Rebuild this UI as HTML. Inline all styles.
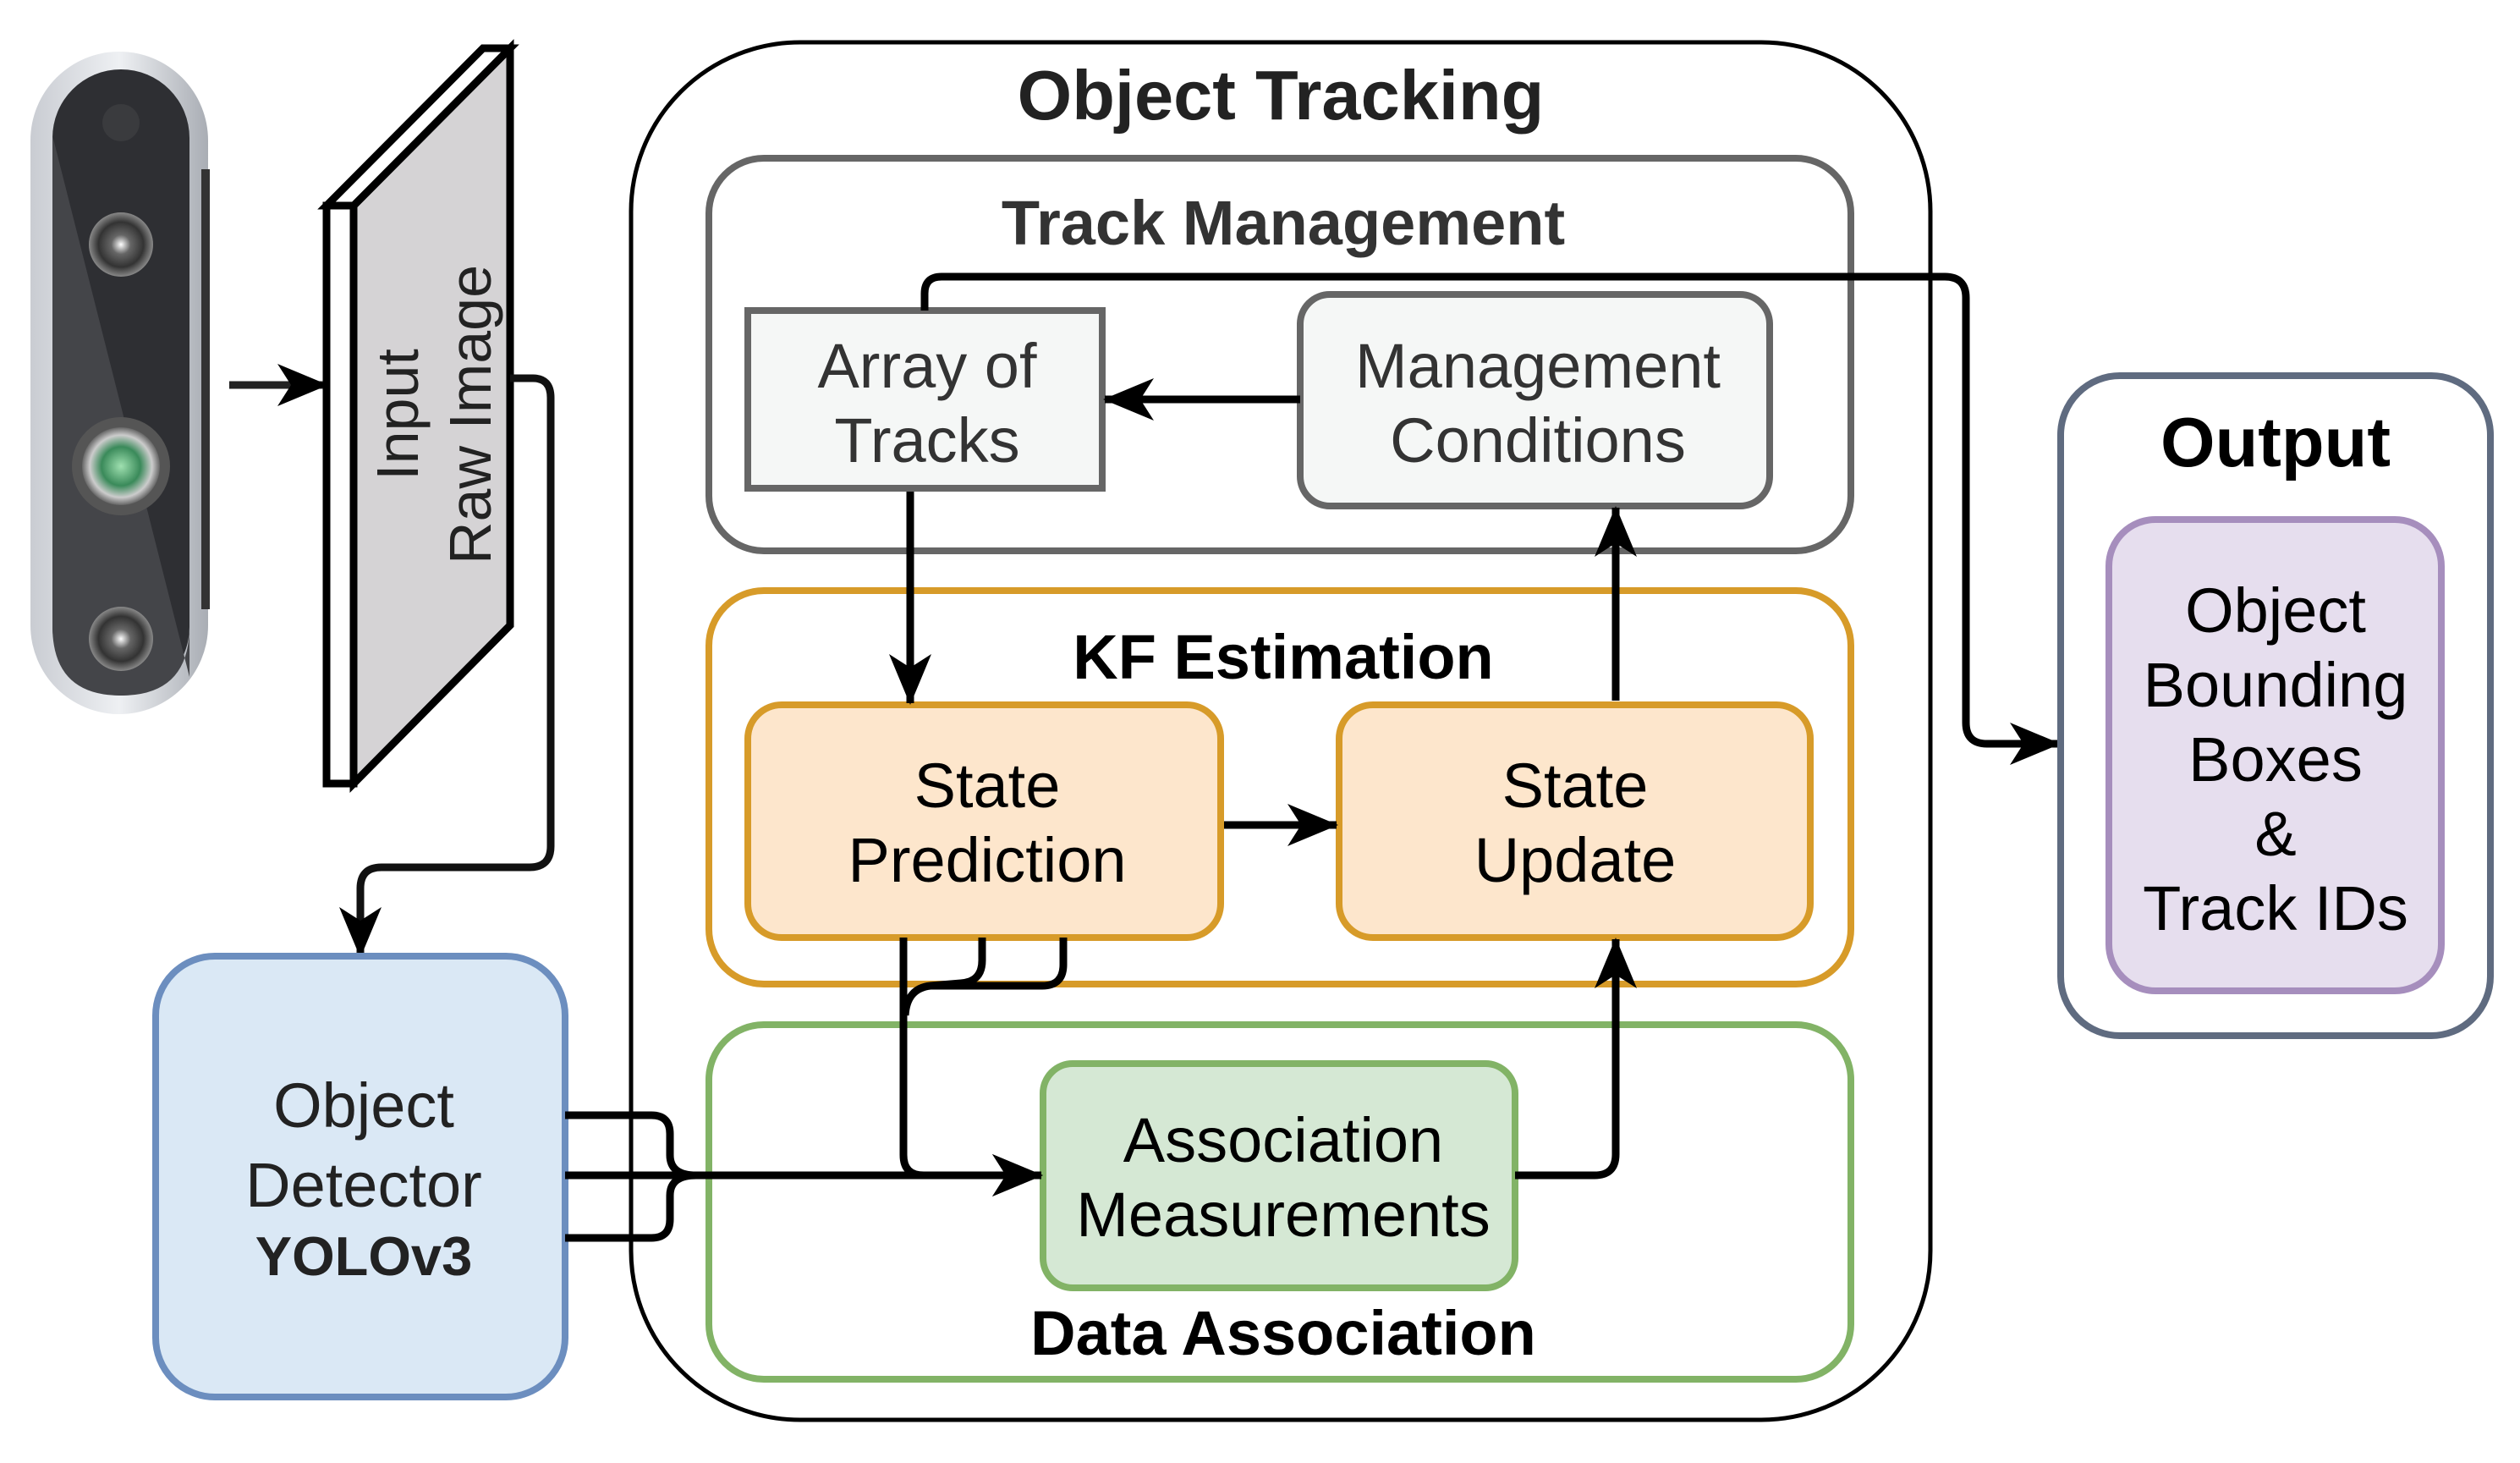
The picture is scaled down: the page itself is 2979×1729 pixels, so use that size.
<!DOCTYPE html>
<html><head><meta charset="utf-8"><style>html,body{margin:0;padding:0;background:#fff}svg{display:block}</style></head>
<body>
<svg width="2979" height="1729" viewBox="0 0 2979 1729" xmlns="http://www.w3.org/2000/svg" font-family="Liberation Sans, Arial, sans-serif">
<defs>
<marker id="ah" viewBox="0 0 60 50" refX="58" refY="25" markerWidth="60" markerHeight="50" markerUnits="userSpaceOnUse" orient="auto">
<path d="M0,0 L60,25 L0,50 L16,25 Z" fill="#000"/>
</marker>
<linearGradient id="cam" x1="0" x2="1"><stop offset="0" stop-color="#c9ccd2"/><stop offset="0.5" stop-color="#eef0f3"/><stop offset="1" stop-color="#a9adb4"/></linearGradient>
<radialGradient id="lens"><stop offset="0" stop-color="#fff"/><stop offset="0.3" stop-color="#666"/><stop offset="0.7" stop-color="#333"/><stop offset="1" stop-color="#888"/></radialGradient>
<radialGradient id="lensg"><stop offset="0" stop-color="#9fe0b0"/><stop offset="0.5" stop-color="#3a8a5a"/><stop offset="0.8" stop-color="#ccc"/><stop offset="1" stop-color="#666"/></radialGradient>
</defs>

<!-- camera -->
<rect x="36" y="61" width="210" height="783" rx="105" fill="url(#cam)"/>
<rect x="238" y="200" width="10" height="520" fill="#333"/>
<rect x="62" y="82" width="162" height="740" rx="81" fill="#2e2f33"/>
<path d="M62,160 L224,800 L224,740 Q224,822 143,822 Q62,822 62,740 Z" fill="#444549"/>
<circle cx="143" cy="145" r="22" fill="#3a3b3e"/>
<circle cx="143" cy="289" r="38" fill="url(#lens)"/>
<circle cx="143" cy="551" r="58" fill="#555"/>
<circle cx="143" cy="551" r="46" fill="url(#lensg)"/>
<circle cx="143" cy="755" r="38" fill="url(#lens)"/>

<!-- arrow camera -> slab -->
<line x1="271" y1="455" x2="386" y2="455" stroke="#222" stroke-width="9" marker-end="url(#ah)"/>

<!-- slab -->
<polygon points="418,243 603,57 603,739 418,926" fill="#d5d3d5" stroke="#000" stroke-width="9" stroke-linejoin="miter"/>
<polygon points="386,243 571,57 603,57 418,243" fill="#fff" stroke="#000" stroke-width="9"/>
<rect x="386" y="243" width="32" height="683" fill="#fff" stroke="#000" stroke-width="9"/>
<text transform="translate(494,490) rotate(-90)" font-size="70" text-anchor="middle" fill="#222">Input</text>
<text transform="translate(580,490) rotate(-90)" font-size="70" text-anchor="middle" fill="#222">Raw Image</text>

<!-- slab -> detector -->
<path d="M603,447 L630,447 Q651,447 651,470 L651,1000 Q651,1025 626,1025 L451,1025 Q426,1025 426,1050 L426,1130" fill="none" stroke="#111" stroke-width="9" marker-end="url(#ah)"/>

<!-- Object Tracking outer -->
<rect x="746" y="50" width="1536" height="1628" rx="200" fill="none" stroke="#000" stroke-width="5"/>
<text x="1514" y="141" font-size="83" font-weight="bold" text-anchor="middle" fill="#222">Object Tracking</text>

<!-- Track Management -->
<rect x="838" y="187" width="1350" height="464" rx="65" fill="none" stroke="#666" stroke-width="8"/>
<text x="1517" y="289" font-size="74" font-weight="bold" text-anchor="middle" fill="#333">Track Management</text>
<rect x="884" y="367" width="419" height="210" fill="#f5f7f6" stroke="#666" stroke-width="8"/>
<text x="1096" y="458" font-size="74" text-anchor="middle" fill="#333">Array of</text>
<text x="1096" y="546" font-size="74" text-anchor="middle" fill="#333">Tracks</text>
<rect x="1537" y="348" width="555" height="250" rx="35" fill="#f5f7f6" stroke="#666" stroke-width="8"/>
<text x="1818" y="458" font-size="74" text-anchor="middle" fill="#333">Management</text>
<text x="1818" y="546" font-size="74" text-anchor="middle" fill="#333">Conditions</text>
<line x1="1537" y1="472" x2="1306" y2="472" stroke="#000" stroke-width="9" marker-end="url(#ah)"/>

<!-- KF Estimation -->
<rect x="838" y="698" width="1350" height="465" rx="65" fill="none" stroke="#d79b29" stroke-width="8"/>
<text x="1517" y="802" font-size="74" font-weight="bold" text-anchor="middle" fill="#000">KF Estimation</text>
<rect x="884" y="833" width="559" height="275" rx="40" fill="#fde6cc" stroke="#d79b29" stroke-width="8"/>
<text x="1167" y="954" font-size="74" text-anchor="middle" fill="#000">State</text>
<text x="1167" y="1042" font-size="74" text-anchor="middle" fill="#000">Prediction</text>
<rect x="1583" y="833" width="557" height="275" rx="40" fill="#fde6cc" stroke="#d79b29" stroke-width="8"/>
<text x="1862" y="954" font-size="74" text-anchor="middle" fill="#000">State</text>
<text x="1862" y="1042" font-size="74" text-anchor="middle" fill="#000">Update</text>
<line x1="1447" y1="975" x2="1580" y2="975" stroke="#000" stroke-width="9" marker-end="url(#ah)"/>

<!-- Data Association -->
<rect x="838" y="1211" width="1350" height="419" rx="65" fill="none" stroke="#82b366" stroke-width="8"/>
<text x="1517" y="1601" font-size="74" font-weight="bold" text-anchor="middle" fill="#000">Data Association</text>
<rect x="1233" y="1257" width="558" height="265" rx="35" fill="#d5e8d4" stroke="#82b366" stroke-width="8"/>
<text x="1517" y="1373" font-size="74" text-anchor="middle" fill="#000">Association</text>
<text x="1517" y="1461" font-size="74" text-anchor="middle" fill="#000">Measurements</text>

<!-- connectors inside -->
<line x1="1076" y1="581" x2="1076" y2="831" stroke="#000" stroke-width="9" marker-end="url(#ah)"/>
<line x1="1910" y1="828" x2="1910" y2="600" stroke="#000" stroke-width="9" marker-end="url(#ah)"/>
<path d="M1791,1389 L1885,1389 Q1910,1389 1910,1364 L1910,1110" fill="none" stroke="#000" stroke-width="9" marker-end="url(#ah)"/>
<path d="M1093,367 L1093,347 Q1093,327 1113,327 L2299,327 Q2324,327 2324,352 L2324,854 Q2324,879 2349,879 L2434,879" fill="none" stroke="#000" stroke-width="9" marker-end="url(#ah)"/>
<path d="M1068,1108 L1068,1365 Q1068,1389 1092,1389 L1231,1389" fill="none" stroke="#000" stroke-width="9" marker-end="url(#ah)"/>
<path d="M1161,1108 L1161,1135 Q1161,1160 1136,1162 L1100,1165 Q1072,1168 1070,1200" fill="none" stroke="#000" stroke-width="9"/>
<path d="M1257,1108 L1257,1140 Q1257,1165 1232,1165 L1100,1165" fill="none" stroke="#000" stroke-width="9"/>

<!-- Object Detector -->
<rect x="184" y="1130" width="484" height="521" rx="70" fill="#dae8f5" stroke="#6c8ebf" stroke-width="8"/>
<text x="430" y="1332" font-size="74" text-anchor="middle" fill="#222">Object</text>
<text x="430" y="1426" font-size="74" text-anchor="middle" fill="#222">Detector</text>
<text x="430" y="1507" font-size="65" font-weight="bold" text-anchor="middle" fill="#222">YOLOv3</text>
<path d="M668,1318 L770,1318 Q792,1318 792,1340 L792,1365 Q792,1389 823,1389" fill="none" stroke="#000" stroke-width="9"/>
<path d="M668,1463 L770,1463 Q792,1463 792,1441 L792,1413 Q792,1389 823,1389" fill="none" stroke="#000" stroke-width="9"/>
<line x1="668" y1="1389" x2="1231" y2="1389" stroke="#000" stroke-width="9" marker-end="url(#ah)"/>

<!-- Output -->
<rect x="2436" y="444" width="508" height="780" rx="70" fill="#fff" stroke="#5f6b80" stroke-width="8"/>
<text x="2690" y="551" font-size="83" font-weight="bold" text-anchor="middle" fill="#000">Output</text>
<rect x="2493" y="614" width="393" height="557" rx="55" fill="#e6deee" stroke="#a68ebd" stroke-width="8"/>
<text x="2690" y="747" font-size="74" text-anchor="middle" fill="#000">Object</text>
<text x="2690" y="835" font-size="74" text-anchor="middle" fill="#000">Bounding</text>
<text x="2690" y="923" font-size="74" text-anchor="middle" fill="#000">Boxes</text>
<text x="2690" y="1011" font-size="74" text-anchor="middle" fill="#000">&amp;</text>
<text x="2690" y="1099" font-size="74" text-anchor="middle" fill="#000">Track IDs</text>
</svg>
</body></html>
